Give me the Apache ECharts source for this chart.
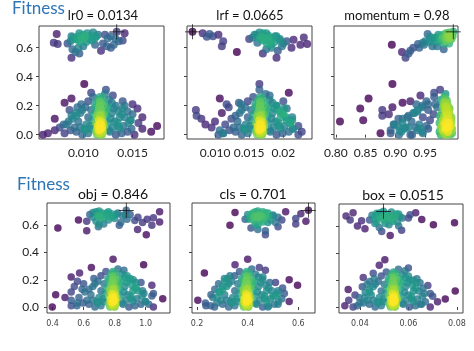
<!DOCTYPE html>
<html>
<head>
<meta charset="utf-8">
<script src="https://cdn.jsdelivr.net/npm/echarts@6/dist/echarts.min.js"></script>
<style>
  html, body { margin: 0; padding: 0; background: #fff; }
  #chart { width: 474px; height: 351px; }
</style>
</head>
<body>
<div id="chart"></div>
<script>
// fitness of every evolved generation (shared y of all panels)
// order: upper cluster, dense core, middle ring, outliers, extra upper, extra ring, extra core
const fitness = [
  0.71, 0.705, 0.70, 0.70, 0.695, 0.69, 0.69, 0.685, 0.68, 0.68, 0.675, 0.67, 0.67, 0.665, 0.66, 0.66, 0.655, 0.65, 0.645, 0.64, 0.635, 0.63, 0.625, 0.62, 0.61, 0.60, 0.59, 0.58, 0.57, 0.53,
  0.00, 0.00, 0.01, 0.02, 0.02, 0.03, 0.04, 0.04, 0.05, 0.06, 0.06, 0.07, 0.08, 0.08, 0.09, 0.10, 0.11, 0.12, 0.13, 0.14, 0.15, 0.17, 0.19, 0.22,
  0.00, 0.00, 0.01, 0.01, 0.02, 0.02, 0.03, 0.03, 0.04, 0.04, 0.05, 0.05, 0.06, 0.06, 0.07, 0.08, 0.09, 0.10, 0.11, 0.12, 0.13, 0.14, 0.15, 0.16, 0.17, 0.18, 0.19, 0.20, 0.21, 0.22, 0.23, 0.24, 0.25, 0.26, 0.18, 0.12,
  0.00, 0.00, 0.01, 0.02, 0.03, 0.04, 0.05, 0.06, 0.07, 0.08, 0.09, 0.10, 0.11, 0.12, 0.13, 0.14, 0.15, 0.16, 0.17, 0.18, 0.19, 0.20, 0.21, 0.22, 0.23, 0.25, 0.27, 0.29, 0.31, 0.35,
  0.70, 0.69, 0.68, 0.675, 0.67, 0.665, 0.66, 0.65, 0.645, 0.64, 0.63, 0.62, 0.61, 0.60, 0.56,
  0.02, 0.03, 0.04, 0.05, 0.06, 0.07, 0.08, 0.09, 0.10, 0.11, 0.12, 0.13, 0.14, 0.15, 0.16, 0.17, 0.18, 0.19, 0.20, 0.21, 0.22, 0.23, 0.24, 0.26, 0.28, 0.01, 0.04, 0.08, 0.13, 0.19,
  0.00, 0.01, 0.02, 0.03, 0.04, 0.05, 0.06, 0.07, 0.08, 0.10, 0.14, 0.20
];

const lr0 = [
  0.0134, 0.0110, 0.0142, 0.0104, 0.0073, 0.0100, 0.0115, 0.0108, 0.0095, 0.0128, 0.0102, 0.0090, 0.0112, 0.0098, 0.0106, 0.0133, 0.0094, 0.0140, 0.0087, 0.0103, 0.0070, 0.0120, 0.0074, 0.0131, 0.0100, 0.0128, 0.0089, 0.0118, 0.0092, 0.0088,
  0.0114, 0.0119, 0.0117, 0.0113, 0.0120, 0.0116, 0.0118, 0.0114, 0.0119, 0.0121, 0.0115, 0.0117, 0.0120, 0.0113, 0.0118, 0.0116, 0.0119, 0.0114, 0.0117, 0.0120, 0.0115, 0.0118, 0.0116, 0.0117,
  0.0099, 0.0133, 0.0105, 0.0139, 0.0093, 0.0127, 0.0126, 0.0102, 0.0137, 0.0108, 0.0097, 0.0130, 0.0135, 0.0107, 0.0103, 0.0125, 0.0132, 0.0109, 0.0128, 0.0105, 0.0124, 0.0111, 0.0129, 0.0122, 0.0108, 0.0123, 0.0113, 0.0120, 0.0112, 0.0121, 0.0117, 0.0115, 0.0119, 0.0117, 0.0131, 0.0137,
  0.0059, 0.0152, 0.0064, 0.0169, 0.0071, 0.0160, 0.0076, 0.0175, 0.0080, 0.0156, 0.0085, 0.0148, 0.0071, 0.0160, 0.0088, 0.0150, 0.0092, 0.0145, 0.0086, 0.0155, 0.0094, 0.0142, 0.0150, 0.0081, 0.0140, 0.0088, 0.0130, 0.0108, 0.0123, 0.0101,
  0.0096, 0.0122, 0.0088, 0.0113, 0.0101, 0.0125, 0.0091, 0.0109, 0.0136, 0.0097, 0.0084, 0.0112, 0.0124, 0.0095, 0.0096,
  0.0145, 0.0087, 0.0149, 0.0091, 0.0141, 0.0083, 0.0146, 0.0095, 0.0148, 0.0089, 0.0142, 0.0093, 0.0139, 0.0097, 0.0136, 0.0099, 0.0140, 0.0102, 0.0133, 0.0098, 0.0129, 0.0105, 0.0126, 0.0110, 0.0122, 0.0081, 0.0101, 0.0135, 0.0114, 0.0125,
  0.0118, 0.0115, 0.0119, 0.0116, 0.0117, 0.0119, 0.0115, 0.0118, 0.0117, 0.0116, 0.0118, 0.0117
];

const lrf = [
  0.0067, 0.0165, 0.0082, 0.0170, 0.0092, 0.0105, 0.0160, 0.0178, 0.0097, 0.0190, 0.0168, 0.0155, 0.0230, 0.0185, 0.0150, 0.0172, 0.0215, 0.0195, 0.0112, 0.0180, 0.0162, 0.0200, 0.0235, 0.0182, 0.0110, 0.0212, 0.0175, 0.0192, 0.0132, 0.0190,
  0.0162, 0.0169, 0.0166, 0.0160, 0.0171, 0.0165, 0.0168, 0.0162, 0.0169, 0.0172, 0.0163, 0.0166, 0.0171, 0.0160, 0.0168, 0.0165, 0.0169, 0.0162, 0.0166, 0.0171, 0.0163, 0.0168, 0.0165, 0.0166,
  0.0139, 0.0190, 0.0148, 0.0199, 0.0130, 0.0181, 0.0180, 0.0144, 0.0196, 0.0153, 0.0136, 0.0186, 0.0193, 0.0151, 0.0145, 0.0178, 0.0189, 0.0154, 0.0183, 0.0148, 0.0177, 0.0157, 0.0184, 0.0174, 0.0153, 0.0175, 0.0160, 0.0171, 0.0159, 0.0172, 0.0166, 0.0163, 0.0169, 0.0166, 0.0187, 0.0196,
  0.0105, 0.0222, 0.0112, 0.0227, 0.0107, 0.0214, 0.0095, 0.0222, 0.0086, 0.0210, 0.0100, 0.0205, 0.0080, 0.0213, 0.0073, 0.0200, 0.0110, 0.0195, 0.0072, 0.0205, 0.0120, 0.0190, 0.0117, 0.0135, 0.0200, 0.0107, 0.0180, 0.0208, 0.0165, 0.0165,
  0.0175, 0.0158, 0.0188, 0.0088, 0.0178, 0.0165, 0.0195, 0.0170, 0.0205, 0.0187, 0.0176, 0.0225, 0.0198, 0.0183, 0.0170,
  0.0208, 0.0121, 0.0214, 0.0127, 0.0202, 0.0115, 0.0210, 0.0133, 0.0213, 0.0124, 0.0204, 0.0130, 0.0199, 0.0136, 0.0195, 0.0139, 0.0201, 0.0144, 0.0190, 0.0138, 0.0184, 0.0148, 0.0180, 0.0156, 0.0174, 0.0112, 0.0142, 0.0193, 0.0162, 0.0178,
  0.0168, 0.0163, 0.0169, 0.0165, 0.0166, 0.0169, 0.0163, 0.0168, 0.0166, 0.0165, 0.0168, 0.0166
];

const momentum = [
  0.997, 0.990, 0.985, 0.993, 0.954, 0.980, 0.995, 0.988, 0.975, 0.996, 0.992, 0.984, 0.968, 0.990, 0.994, 0.978, 0.960, 0.986, 0.950, 0.970, 0.946, 0.982, 0.938, 0.894, 0.962, 0.930, 0.981, 0.925, 0.911, 0.917,
  0.976, 0.986, 0.982, 0.974, 0.988, 0.980, 0.984, 0.976, 0.986, 0.990, 0.978, 0.982, 0.988, 0.974, 0.984, 0.980, 0.986, 0.976, 0.982, 0.988, 0.978, 0.984, 0.980, 0.982,
  0.928, 0.992, 0.946, 0.995, 0.910, 0.988, 0.987, 0.937, 0.994, 0.955, 0.922, 0.990, 0.993, 0.952, 0.940, 0.987, 0.991, 0.958, 0.989, 0.946, 0.986, 0.964, 0.989, 0.985, 0.955, 0.986, 0.970, 0.984, 0.967, 0.984, 0.982, 0.976, 0.983, 0.982, 0.990, 0.994,
  0.906, 0.925, 0.875, 0.945, 0.892, 0.915, 0.934, 0.904, 0.898, 0.912, 0.807, 0.846, 0.905, 0.920, 0.878, 0.889, 0.930, 0.937, 0.878, 0.841, 0.895, 0.945, 0.955, 0.912, 0.925, 0.855, 0.942, 0.965, 0.975, 0.895,
  0.987, 0.972, 0.991, 0.958, 0.980, 0.965, 0.993, 0.975, 0.985, 0.957, 0.990, 0.948, 0.970, 0.940, 0.922,
  0.993, 0.907, 0.995, 0.917, 0.992, 0.897, 0.994, 0.927, 0.994, 0.912, 0.992, 0.922, 0.991, 0.932, 0.990, 0.937, 0.991, 0.945, 0.988, 0.935, 0.987, 0.952, 0.986, 0.965, 0.984, 0.892, 0.942, 0.989, 0.975, 0.985,
  0.984, 0.978, 0.988, 0.980, 0.983, 0.987, 0.977, 0.985, 0.982, 0.979, 0.986, 0.981
];

const obj = [
  0.875, 0.700, 1.090, 0.760, 0.660, 0.820, 0.720, 0.780, 0.640, 0.900, 0.740, 0.690, 0.850, 0.770, 0.950, 0.710, 1.050, 0.800, 1.010, 0.567, 0.930, 0.680, 1.090, 0.980, 0.730, 0.830, 0.695, 0.434, 0.948, 1.004,
  0.770, 0.802, 0.789, 0.763, 0.808, 0.783, 0.795, 0.770, 0.802, 0.815, 0.776, 0.789, 0.808, 0.763, 0.795, 0.783, 0.802, 0.770, 0.789, 0.808, 0.776, 0.795, 0.783, 0.789,
  0.673, 0.892, 0.712, 0.931, 0.634, 0.854, 0.847, 0.692, 0.918, 0.731, 0.660, 0.873, 0.905, 0.725, 0.699, 0.841, 0.886, 0.737, 0.860, 0.712, 0.834, 0.750, 0.866, 0.821, 0.731, 0.828, 0.763, 0.808, 0.757, 0.815, 0.789, 0.776, 0.802, 0.789, 0.879, 0.918,
  0.398, 1.050, 0.520, 1.020, 0.560, 1.000, 0.520, 1.110, 0.480, 1.040, 0.420, 1.050, 0.520, 0.980, 0.590, 0.940, 0.540, 1.040, 0.600, 0.970, 0.560, 0.920, 0.900, 0.520, 0.880, 0.574, 0.860, 0.650, 0.987, 0.790,
  0.680, 0.750, 0.810, 0.870, 0.700, 0.790, 0.660, 0.730, 0.880, 0.760, 0.620, 0.840, 0.700, 1.040, 0.620,
  0.970, 0.596, 0.995, 0.621, 0.944, 0.570, 0.976, 0.647, 0.989, 0.608, 0.950, 0.634, 0.931, 0.660, 0.912, 0.673, 0.937, 0.692, 0.892, 0.666, 0.866, 0.712, 0.847, 0.744, 0.821, 0.557, 0.686, 0.905, 0.770, 0.841,
  0.795, 0.776, 0.802, 0.783, 0.789, 0.802, 0.776, 0.795, 0.789, 0.783, 0.795, 0.789
];

const cls = [
  0.640, 0.440, 0.550, 0.460, 0.350, 0.420, 0.480, 0.610, 0.450, 0.400, 0.470, 0.430, 0.500, 0.455, 0.410, 0.520, 0.440, 0.590, 0.390, 0.490, 0.425, 0.630, 0.460, 0.510, 0.590, 0.440, 0.520, 0.413, 0.440, 0.470,
  0.384, 0.404, 0.396, 0.380, 0.408, 0.392, 0.400, 0.384, 0.404, 0.412, 0.388, 0.396, 0.408, 0.380, 0.400, 0.392, 0.404, 0.384, 0.396, 0.408, 0.388, 0.400, 0.392, 0.396,
  0.325, 0.459, 0.349, 0.483, 0.301, 0.435, 0.431, 0.337, 0.475, 0.361, 0.317, 0.447, 0.467, 0.357, 0.341, 0.428, 0.455, 0.364, 0.439, 0.349, 0.424, 0.372, 0.443, 0.416, 0.361, 0.420, 0.380, 0.408, 0.376, 0.412, 0.396, 0.388, 0.404, 0.396, 0.451, 0.475,
  0.269, 0.480, 0.235, 0.520, 0.233, 0.564, 0.203, 0.535, 0.280, 0.500, 0.255, 0.545, 0.290, 0.520, 0.270, 0.538, 0.300, 0.597, 0.285, 0.510, 0.310, 0.564, 0.308, 0.460, 0.330, 0.229, 0.470, 0.446, 0.350, 0.400,
  0.430, 0.470, 0.415, 0.500, 0.445, 0.480, 0.425, 0.465, 0.405, 0.535, 0.450, 0.480, 0.430, 0.330, 0.470,
  0.506, 0.278, 0.522, 0.294, 0.491, 0.262, 0.510, 0.309, 0.518, 0.286, 0.495, 0.301, 0.483, 0.317, 0.471, 0.325, 0.487, 0.337, 0.459, 0.321, 0.443, 0.349, 0.431, 0.368, 0.416, 0.254, 0.333, 0.467, 0.384, 0.428,
  0.400, 0.388, 0.404, 0.392, 0.396, 0.404, 0.388, 0.400, 0.396, 0.392, 0.400, 0.396
];

const box = [
  0.0497, 0.0530, 0.0372, 0.0630, 0.0470, 0.0550, 0.0510, 0.0607, 0.0450, 0.0540, 0.0343, 0.0500, 0.0565, 0.0480, 0.0520, 0.0600, 0.0460, 0.0655, 0.0360, 0.0407, 0.0535, 0.0470, 0.0790, 0.0505, 0.0703, 0.0560, 0.0480, 0.0421, 0.0572, 0.0525,
  0.0526, 0.0546, 0.0538, 0.0521, 0.0550, 0.0534, 0.0542, 0.0526, 0.0546, 0.0555, 0.0530, 0.0538, 0.0550, 0.0521, 0.0542, 0.0534, 0.0546, 0.0526, 0.0538, 0.0550, 0.0530, 0.0542, 0.0534, 0.0538,
  0.0463, 0.0604, 0.0488, 0.0629, 0.0439, 0.0579, 0.0575, 0.0476, 0.0621, 0.0501, 0.0455, 0.0592, 0.0613, 0.0497, 0.0480, 0.0571, 0.0600, 0.0505, 0.0584, 0.0488, 0.0567, 0.0513, 0.0588, 0.0559, 0.0501, 0.0563, 0.0521, 0.0550, 0.0517, 0.0555, 0.0538, 0.0530, 0.0546, 0.0538, 0.0596, 0.0621,
  0.0372, 0.0690, 0.0338, 0.0650, 0.0400, 0.0720, 0.0354, 0.0752, 0.0420, 0.0700, 0.0380, 0.0690, 0.0440, 0.0793, 0.0352, 0.0660, 0.0410, 0.0680, 0.0430, 0.0648, 0.0440, 0.0620, 0.0635, 0.0414, 0.0600, 0.0455, 0.0586, 0.0600, 0.0480, 0.0503,
  0.0485, 0.0560, 0.0465, 0.0545, 0.0515, 0.0490, 0.0575, 0.0530, 0.0440, 0.0500, 0.0555, 0.0462, 0.0520, 0.0390, 0.0490,
  0.0654, 0.0414, 0.0670, 0.0430, 0.0637, 0.0397, 0.0658, 0.0447, 0.0666, 0.0422, 0.0642, 0.0439, 0.0629, 0.0455, 0.0617, 0.0463, 0.0633, 0.0476, 0.0604, 0.0459, 0.0588, 0.0488, 0.0575, 0.0509, 0.0559, 0.0389, 0.0472, 0.0613, 0.0526, 0.0571,
  0.0542, 0.0530, 0.0546, 0.0534, 0.0538, 0.0546, 0.0530, 0.0542, 0.0538, 0.0534, 0.0542, 0.0538
];

// titles and tick labels as printed in the figure
const titles = ['lr0 = 0.0134', 'lrf = 0.0665', 'momentum = 0.98', 'obj = 0.846', 'cls = 0.701', 'box = 0.0515'];
const fitnessTicks = [0.0, 0.2, 0.4, 0.6];
const fitnessTickLabels = ['0.0', '0.2', '0.4', '0.6'];
const lr0Ticks = [0.010, 0.015];
const lr0TickLabels = ['0.010', '0.015'];
const lrfTicks = [0.010, 0.015, 0.020];
const lrfTickLabels = ['0.010', '0.015', '0.02'];
const momentumTicks = [0.80, 0.85, 0.90, 0.95];
const momentumTickLabels = ['0.80', '0.85', '0.90', '0.95'];
const objTicks = [0.4, 0.6, 0.8, 1.0];
const objTickLabels = ['0.4', '0.6', '0.8', '1.0'];
const clsTicks = [0.2, 0.4, 0.6];
const clsTickLabels = ['0.2', '0.4', '0.6'];
const boxTicks = [0.04, 0.06, 0.08];
const boxTickLabels = ['0.04', '0.06', '0.08'];

const viridis = ['#440154', '#482878', '#3e4989', '#31688e', '#26828e', '#1f9e89', '#35b779', '#6ece58', '#b5de2b', '#fde725'];

// layout (pixels) and axis extents
const panels = [
  { x: lr0, ticks: lr0Ticks, labels: lr0TickLabels, xr: [0.0055, 0.0182], yr: [-0.03, 0.75], rect: [39, 26, 125, 113], title: [103, 16], top: true, showY: true },
  { x: lrf, ticks: lrfTicks, labels: lrfTickLabels, xr: [0.0059, 0.0242], yr: [-0.03, 0.75], rect: [187, 26, 125, 113], title: [250, 16], top: true },
  { x: momentum, ticks: momentumTicks, labels: momentumTickLabels, xr: [0.797, 1.005], yr: [-0.03, 0.75], rect: [334, 26, 124, 113], title: [397, 16], top: true },
  { x: obj, ticks: objTicks, labels: objTickLabels, xr: [0.364, 1.157], yr: [-0.044, 0.764], rect: [47, 203, 123, 110], title: [113, 194], showY: true },
  { x: cls, ticks: clsTicks, labels: clsTickLabels, xr: [0.180, 0.666], yr: [-0.044, 0.764], rect: [192, 203, 123, 110], title: [253, 194] },
  { x: box, ticks: boxTicks, labels: boxTickLabels, xr: [0.0314, 0.0825], yr: [-0.044, 0.764], rect: [339, 204, 124, 109], title: [403, 195] }
];

function labelFor(ticks, labels) {
  return v => {
    let k = 0;
    ticks.forEach((t, i) => { if (Math.abs(t - v) < Math.abs(ticks[k] - v)) k = i; });
    return labels[k];
  };
}

// log point density in screen space, standing in for the hist2d colouring
function density(xs, ys, p) {
  const w = p.rect[2], h = p.rect[3], sx = 3, sy = 5;
  const px = xs.map(v => (v - p.xr[0]) / (p.xr[1] - p.xr[0]) * w);
  const py = ys.map(v => (v - p.yr[0]) / (p.yr[1] - p.yr[0]) * h);
  return px.map((x, i) => {
    let s = 0;
    for (let j = 0; j < px.length; j++) {
      const dx = (x - px[j]) / sx, dy = (py[i] - py[j]) / sy;
      s += Math.exp(-(dx * dx + dy * dy) / 2);
    }
    return Math.log(s);
  });
}

let best = 0;
fitness.forEach((f, i) => { if (f > fitness[best]) best = i; });

const crossPath = 'path://M-0.05,-1 L0.05,-1 L0.05,-0.05 L1,-0.05 L1,0.05 L0.05,0.05 L0.05,1 L-0.05,1 L-0.05,0.05 L-1,0.05 L-1,-0.05 L-0.05,-0.05 Z';
const font = 'Lato';

const grid = [], xAxis = [], yAxis = [], series = [], visualMap = [];
const graphic = [
  { type: 'text', left: 12, top: 0, style: { text: 'Fitness', fill: '#2e75b6', font: '17px Lato' } },
  { type: 'text', left: 17, top: 176, style: { text: 'Fitness', fill: '#2e75b6', font: '17px Lato' } }
];

panels.forEach((p, k) => {
  grid.push({ left: p.rect[0], top: p.rect[1], width: p.rect[2], height: p.rect[3], show: true, borderColor: '#444', borderWidth: 1, backgroundColor: 'transparent' });
  xAxis.push({
    type: 'value', gridIndex: k, min: p.xr[0], max: p.xr[1],
    axisLine: { show: false }, splitLine: { show: false },
    axisTick: { show: true, length: 3, customValues: p.ticks, lineStyle: { color: '#444' } },
    axisLabel: {
      customValues: p.ticks, formatter: labelFor(p.ticks, p.labels),
      fontFamily: p.top ? font : 'DejaVu Sans', fontSize: p.top ? 12 : 8,
      color: p.top ? '#222' : '#444', margin: p.top ? 8 : 7
    }
  });
  yAxis.push({
    type: 'value', gridIndex: k, min: p.yr[0], max: p.yr[1],
    axisLine: { show: false }, splitLine: { show: false },
    axisTick: { show: true, length: 3, customValues: fitnessTicks, lineStyle: { color: '#444' } },
    axisLabel: {
      show: !!p.showY, customValues: fitnessTicks, formatter: labelFor(fitnessTicks, fitnessTickLabels),
      fontFamily: font, fontSize: 12, color: '#222', margin: p.top ? 6 : 8
    }
  });

  const d = density(p.x, fitness, p);
  const order = fitness.map((_, i) => i).sort((a, b) => d[a] - d[b]);
  series.push({
    type: 'scatter', xAxisIndex: k, yAxisIndex: k,
    symbolSize: p.top ? 8 : 7.5,
    itemStyle: { opacity: 0.8 },
    data: order.map(i => [p.x[i], fitness[i], d[i]]),
    silent: true
  });
  visualMap.push({
    show: false, seriesIndex: series.length - 1, dimension: 2,
    min: Math.min(...d), max: Math.max(...d),
    inRange: { color: viridis }
  });
  series.push({
    type: 'scatter', xAxisIndex: k, yAxisIndex: k, z: 5,
    symbol: crossPath, symbolSize: 15,
    itemStyle: { color: '#111', opacity: 1 },
    data: [[p.x[best], fitness[best]]],
    silent: true
  });

  graphic.push({
    type: 'text', x: p.title[0], y: p.title[1],
    style: {
      text: titles[k], fill: '#111', font: (p.top ? 13 : 14) + 'px Lato',
      align: 'center', verticalAlign: 'middle', textAlign: 'center', textVerticalAlign: 'middle'
    }
  });
});

const chart = echarts.init(document.getElementById('chart'), null, { renderer: 'canvas' });
chart.setOption({
  animation: false,
  backgroundColor: '#fff',
  grid, xAxis, yAxis, series, visualMap, graphic
});
</script>
</body>
</html>
